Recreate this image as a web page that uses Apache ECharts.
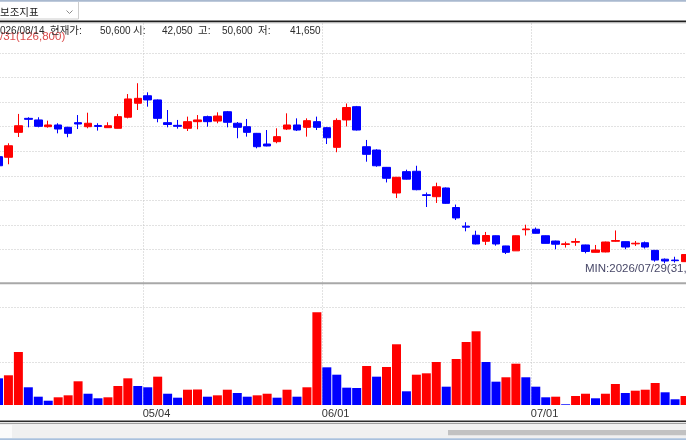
<!DOCTYPE html>
<html><head><meta charset="utf-8">
<script src="https://cdn.jsdelivr.net/npm/echarts@6/dist/echarts.min.js"></script>
<style>html,body{margin:0;padding:0;background:#fff;overflow:hidden;width:686px;height:440px;position:relative}
#c{position:absolute;left:-7px;top:0;width:700px;height:440px}</style>
</head><body><div id="c"></div>
<script>
// ---- data ----
const dates = ['04/10','04/13','04/14','04/15','04/16','04/17','04/20','04/21','04/22','04/23','04/24','04/27','04/28','04/29','04/30',
  '05/04','05/06','05/07','05/08','05/11','05/12','05/13','05/14','05/15','05/18','05/19','05/20','05/21','05/22','05/26','05/27','05/28','05/29',
  '06/01','06/02','06/04','06/05','06/08','06/09','06/10','06/11','06/12','06/15','06/16','06/17','06/18','06/19','06/22','06/23','06/24','06/25','06/26','06/29','06/30',
  '07/01','07/02','07/03','07/06','07/07','07/08','07/09','07/10','07/13','07/14','07/15','07/16','07/17','07/20','07/21','07/22'];
const opens  = [77800,77550,87700,93400,92750,90000,90700,89750,91650,90000,90500,89600,89350,93850,99550,
  102600,100900,91650,90550,89350,92050,94100,92300,96100,91400,90000,87300,82950,83900,89050,90700,89750,92050,
  89600,81600,92750,98150,81850,80500,73450,63000,71700,71850,62300,61500,65050,57100,49500,45800,43350,45600,41450,39450,48050,
  48250,45600,43450,42050,42950,41850,38850,39000,43350,43200,42300,42750,39650,36050,35700,35050];
const closes = [74100,82250,90400,93000,90150,90700,89050,87300,91100,91400,90100,90400,94100,101300,101550,
  100900,93400,90900,90150,92050,92750,92050,94350,91800,89750,87700,81850,82150,85950,90700,88650,92450,89750,
  85500,92550,97800,88650,78750,74100,69000,69400,68650,64350,62000,65550,58800,52850,49100,42250,45700,42250,38850,45600,48350,
  46600,42500,42150,42300,43250,39200,39800,43050,43650,41000,42550,41000,35700,35300,35450,37950];
const lows   = [73200,74700,85800,89750,89750,89600,87300,85700,89050,89350,88400,89500,89300,93400,96800,
  98150,91800,89750,89200,88250,88950,90000,91400,89750,85300,85950,81200,82000,83250,88650,88250,85950,88650,
  82950,79600,90100,88450,75750,73700,67300,60950,68500,64100,57300,58950,58600,52000,47400,42100,41850,41550,38150,39400,45700,
  46500,42450,40100,40800,41500,38450,38800,38850,43150,40100,41450,40400,35050,34400,34700,34900];
const highs  = [78900,83250,95200,93850,93850,92450,91400,90000,94750,95700,91400,91800,95200,103300,107700,
  104000,101100,96800,92750,94100,94750,94500,95850,96400,91900,93150,87450,88650,89350,95450,93400,93400,94100,
  89900,93400,99450,98450,84600,80800,73600,69500,72500,74100,63200,67200,65250,58300,51100,47650,47150,45700,41500,45700,50100,
  48950,45700,43600,43200,44550,41950,41850,43200,47750,43250,43450,43250,39800,36350,37050,37950];
const volumes = [485000,540000,964000,322000,151000,78000,140000,176000,431000,205000,
  122000,140000,345000,485000,345000,322000,515000,205000,133000,278000,
  282000,151000,176000,278000,218000,151000,176000,205000,133000,278000,
  151000,322000,1685000,685000,551000,315000,309000,709000,515000,691000,
  1104000,249000,551000,576000,782000,333000,836000,1145000,1340000,782000,
  424000,504000,751000,504000,333000,140000,151000,13000,164000,205000,
  122000,205000,382000,218000,260000,278000,400000,231000,104000,164000];
const prevVolume = 610000;
const tickLabels = ['05/04','06/01','07/01'];
const headerTexts = ['026/08/14','현재가:','50,600','시:','42,050','고:','50,600','저:','41,650'];
const maxText = '/31(126,800)';
const minText = 'MIN:2026/07/29(31,';
const toolbarText = '보조지표';

// ---- layout / style ----
const RED = '#ff0000', BLUE = '#0000ff';
const FONT = '"Liberation Sans", "Noto Sans CJK KR", sans-serif';
const OFF = 7;              // canvas starts 7px left of the page
const GL = 0.5, GW = 696.5;
const GRIDLINE = {color:'#c4c4c4', type:[1,2], width:1};
const headerX = [0,50,100,133,162,198,222,258,290];
const headerSize = [10,10.5,10,10.5,10,10.5,10,10.5,10];

const candleData = dates.map((d,i)=>[opens[i], closes[i], lows[i], highs[i]]);
const volData = volumes.map((v,i)=>({
  value: v,
  itemStyle:{color: v > (i===0 ? prevVolume : volumes[i-1]) ? RED : BLUE}
}));
const boundaryDates = dates.concat(['']);
const showTick = (i,v)=>tickLabels.indexOf(v) >= 0;

const hiddenVal = (gi,min,max,interval)=>({
  type:'value', gridIndex:gi, min, max, interval, position:'right',
  axisLine:{show:false}, axisTick:{show:false}, axisLabel:{show:false},
  splitLine:{show:true, showMinLine:false, showMaxLine:false, lineStyle:GRIDLINE}
});

const txt = (text,x,y,size,color)=>({type:'text', z:200, style:{text, x, y, fill:color,
  font: size+'px '+FONT, textVerticalAlign:'middle', verticalAlign:'middle'}});
const rect = (x,y,w,h,fill)=>({type:'rect', z:150, shape:{x,y,width:w,height:h}, style:{fill}});

const children = [
  rect(0,0,686,1.7,'#a9b9cf'),
  {type:'line', z:150, shape:{x1:0,y1:19,x2:78.5,y2:19}, style:{stroke:'#cdcdcd', lineWidth:1}},
  {type:'line', z:150, shape:{x1:78.5,y1:2,x2:78.5,y2:19}, style:{stroke:'#cdcdcd', lineWidth:1}},
  {type:'polyline', z:150, shape:{points:[[66.5,10.5],[69.5,13.5],[72.5,10.5]]}, style:{stroke:'#8a8a8a', lineWidth:1, fill:null}},
  txt(toolbarText,0,13.3,10.5,'#222'),
  rect(0,20.6,686,1.4,'#1e1e1e'),
  rect(0,22.3,686,1,'#a0a0a0'),
  rect(0,282.3,686,2,'#a8a8a8'),
  rect(0,420.5,686,1.5,'#2a2a2a'),
  rect(0,422.8,686,1.2,'#a0a0a0'),
  rect(0,424,686,14.3,'#f0f0f0'),
  rect(0,425,12,13,'#fbfbfb'),
  rect(448,430,238,5.3,'#c2c2c2'),
  rect(0,438.3,686,1.7,'#a9c0dc'),
  txt(maxText,0,36.8,11.5,'#dc4c4c')
];
headerTexts.forEach((t,i)=>children.push(txt(t,headerX[i],31,headerSize[i],'#2a2a2a')));
children.push(txt(minText,585,269,11.5,'#484868'));

const option = {
  animation:false,
  backgroundColor:'#ffffff',
  grid:[
    {left:GL, width:GW, top:30.92, height:243.14},
    {left:GL, width:GW, top:283, height:134.1},
    {left:GL, width:GW, top:23.5, height:381.5}
  ],
  xAxis:[
    {type:'category', gridIndex:0, data:dates, boundaryGap:true, show:false},
    {type:'category', gridIndex:1, data:dates, boundaryGap:true, show:false},
    {type:'category', gridIndex:2, data:boundaryDates, boundaryGap:false,
     axisLine:{show:false}, axisTick:{show:false},
     axisLabel:{show:true, interval:showTick, align:'left', margin:3, fontSize:11, fontFamily:FONT, color:'#333'},
     splitLine:{show:true, interval:showTick, lineStyle:GRIDLINE}}
  ],
  yAxis:[
    hiddenVal(0,30000,129000,10000),
    hiddenVal(1,-220000,2218000,1000000),
    {type:'value', gridIndex:2, show:false, min:0, max:1}
  ],
  series:[
    {type:'candlestick', xAxisIndex:0, yAxisIndex:0, data:candleData, barWidth:8,
     itemStyle:{color:RED, color0:BLUE, borderColor:RED, borderColor0:BLUE, borderWidth:1}},
    {type:'bar', xAxisIndex:1, yAxisIndex:1, data:volData, barWidth:9}
  ],
  graphic:[{type:'group', x:OFF, y:0, children}]
};
const chart = echarts.init(document.getElementById('c'), null, {renderer:'canvas', width:700, height:440});
chart.setOption(option);
</script></body></html>
